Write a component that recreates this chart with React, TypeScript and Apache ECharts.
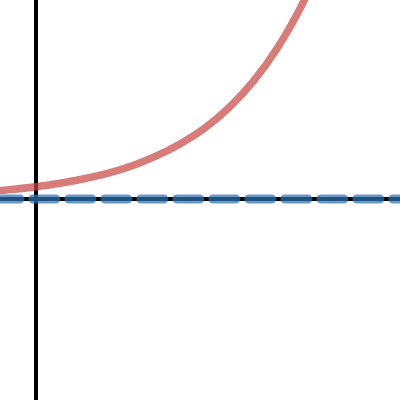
import { useEffect, useRef } from 'react'
import * as echarts from 'echarts'

// Axis window (graph units)
const X_RANGE = [-0.374, 3.78]
const Y_RANGE = [-16.34, 16.18]

// Red curve samples
const curveX = [-0.5, -0.25, 0, 0.25, 0.5, 0.75, 1, 1.25, 1.5, 1.75, 2, 2.25, 2.5, 2.75, 3]
const curveY = [0.61, 0.78, 1.0, 1.28, 1.65, 2.1, 2.7, 3.5, 4.5, 5.75, 7.4, 9.5, 12.2, 15.6, 20]

// Blue dashed asymptote y = 0
const asymX = [-0.5, 4]
const asymY = [0, 0]

const RED = '#c74440'
const BLUE = '#2d70b3'

const App: React.FC = () => {
  const chartRef = useRef<HTMLDivElement | null>(null)

  useEffect(() => {
    if (!chartRef.current) return
    const chart = echarts.init(chartRef.current, null, { renderer: 'svg' })

    const axisCommon = {
      type: 'value' as const,
      axisLine: { show: true, onZero: true, lineStyle: { color: '#000', width: 4 } },
      axisTick: { show: false },
      axisLabel: { show: false },
      splitLine: { show: false },
    }

    chart.setOption({
      animation: false,
      grid: { left: 0, right: 0, top: 0, bottom: 0 },
      xAxis: { ...axisCommon, min: X_RANGE[0], max: X_RANGE[1] },
      yAxis: { ...axisCommon, min: Y_RANGE[0], max: Y_RANGE[1] },
      series: [
        {
          type: 'line',
          data: asymX.map((x, i) => [x, asymY[i]]),
          showSymbol: false,
          z: 3,
          lineStyle: {
            color: BLUE,
            opacity: 0.72,
            width: 9,
            type: [23, 13],
            dashOffset: 26.5,
            cap: 'round',
          },
        },
        {
          type: 'line',
          data: curveX.map((x, i) => [x, curveY[i]]),
          smooth: 0.3,
          showSymbol: false,
          z: 4,
          lineStyle: { color: RED, opacity: 0.7, width: 7.5, cap: 'round' },
        },
      ],
    })

    return () => chart.dispose()
  }, [])

  return (
    <div
      ref={chartRef}
      style={{ position: 'fixed', left: 0, top: 0, width: 400, height: 400, background: '#fff' }}
    />
  )
}

export default App
